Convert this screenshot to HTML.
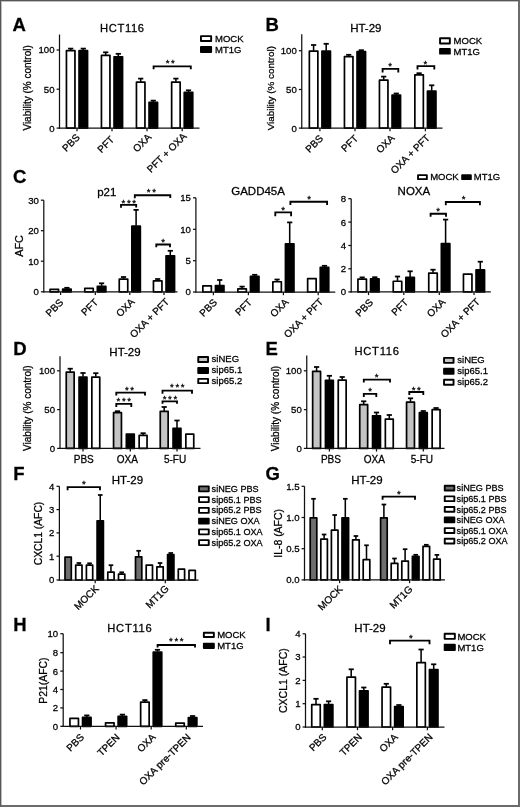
<!DOCTYPE html>
<html><head><meta charset="utf-8"><title>Figure</title>
<style>
html,body{margin:0;padding:0;background:#fff;}
body{width:520px;height:807px;overflow:hidden;position:relative;}
.frame{position:absolute;left:0;top:0;width:520px;height:807px;box-sizing:border-box;
 border-left:1px solid #575757;border-top:1px solid #575757;border-right:2px solid #6b6b6b;border-bottom:2px solid #6b6b6b;}
.frame2{position:absolute;left:1px;top:1px;width:517px;height:804px;box-sizing:border-box;border-left:1px solid #bdbdbd;border-top:1px solid #bdbdbd;}
svg{position:absolute;left:0;top:0;filter:blur(0.3px);}
svg text{font-family:'Liberation Sans', Arial, Helvetica, sans-serif;fill:#000;stroke:#000;stroke-width:0.28px;}
</style></head><body>
<svg width="520" height="807" viewBox="0 0 520 807">
<text x="12.6" y="30.7" font-size="18.5" font-weight="bold">A</text>
<text x="122" y="31.9" font-size="11.2" text-anchor="middle" textLength="44" lengthAdjust="spacing">HCT116</text>
<line x1="70.7" y1="50.3" x2="70.7" y2="48.6" stroke="#000" stroke-width="1.55"/>
<line x1="68.1" y1="48.6" x2="73.3" y2="48.6" stroke="#000" stroke-width="1.75"/>
<rect x="66.45" y="50.65" width="8.5" height="77.45" fill="#fff" stroke="#000" stroke-width="1.7" stroke-linejoin="round"/>
<line x1="83.3" y1="50.3" x2="83.3" y2="48.6" stroke="#000" stroke-width="1.55"/>
<line x1="80.7" y1="48.6" x2="85.9" y2="48.6" stroke="#000" stroke-width="1.75"/>
<rect x="79.05" y="50.65" width="8.5" height="77.45" fill="#000" stroke="#000" stroke-width="1.7" stroke-linejoin="round"/>
<line x1="105.7" y1="55" x2="105.7" y2="52.3" stroke="#000" stroke-width="1.55"/>
<line x1="103.1" y1="52.3" x2="108.3" y2="52.3" stroke="#000" stroke-width="1.75"/>
<rect x="101.45" y="55.35" width="8.5" height="72.75" fill="#fff" stroke="#000" stroke-width="1.7" stroke-linejoin="round"/>
<line x1="118.3" y1="56.5" x2="118.3" y2="53.8" stroke="#000" stroke-width="1.55"/>
<line x1="115.7" y1="53.8" x2="120.9" y2="53.8" stroke="#000" stroke-width="1.75"/>
<rect x="114.05" y="56.85" width="8.5" height="71.25" fill="#000" stroke="#000" stroke-width="1.7" stroke-linejoin="round"/>
<line x1="140.7" y1="81.8" x2="140.7" y2="78.6" stroke="#000" stroke-width="1.55"/>
<line x1="138.1" y1="78.6" x2="143.3" y2="78.6" stroke="#000" stroke-width="1.75"/>
<rect x="136.45" y="82.15" width="8.5" height="45.95" fill="#fff" stroke="#000" stroke-width="1.7" stroke-linejoin="round"/>
<line x1="153.3" y1="102.1" x2="153.3" y2="100.6" stroke="#000" stroke-width="1.55"/>
<line x1="150.7" y1="100.6" x2="155.9" y2="100.6" stroke="#000" stroke-width="1.75"/>
<rect x="149.05" y="102.45" width="8.5" height="25.65" fill="#000" stroke="#000" stroke-width="1.7" stroke-linejoin="round"/>
<line x1="175.9" y1="81.8" x2="175.9" y2="78.6" stroke="#000" stroke-width="1.55"/>
<line x1="173.3" y1="78.6" x2="178.5" y2="78.6" stroke="#000" stroke-width="1.75"/>
<rect x="171.65" y="82.15" width="8.5" height="45.95" fill="#fff" stroke="#000" stroke-width="1.7" stroke-linejoin="round"/>
<line x1="188.5" y1="92" x2="188.5" y2="90.3" stroke="#000" stroke-width="1.55"/>
<line x1="185.9" y1="90.3" x2="191.1" y2="90.3" stroke="#000" stroke-width="1.75"/>
<rect x="184.25" y="92.35" width="8.5" height="35.75" fill="#000" stroke="#000" stroke-width="1.7" stroke-linejoin="round"/>
<line x1="59.5" y1="34.5" x2="59.5" y2="128.72" stroke="#111" stroke-width="1.25"/>
<line x1="56.6" y1="50" x2="59.5" y2="50" stroke="#111" stroke-width="1.25"/>
<text x="54.5" y="53.44" font-size="9.6" text-anchor="end">100</text>
<line x1="56.6" y1="89.2" x2="59.5" y2="89.2" stroke="#111" stroke-width="1.25"/>
<text x="54.5" y="92.64" font-size="9.6" text-anchor="end">50</text>
<line x1="56.6" y1="128.1" x2="59.5" y2="128.1" stroke="#111" stroke-width="1.25"/>
<text x="54.5" y="131.54" font-size="9.6" text-anchor="end">0</text>
<line x1="58.88" y1="128.1" x2="199.5" y2="128.1" stroke="#111" stroke-width="1.25"/>
<line x1="77" y1="128.1" x2="77" y2="131.3" stroke="#111" stroke-width="1.25"/>
<line x1="112" y1="128.1" x2="112" y2="131.3" stroke="#111" stroke-width="1.25"/>
<line x1="147" y1="128.1" x2="147" y2="131.3" stroke="#111" stroke-width="1.25"/>
<line x1="182.2" y1="128.1" x2="182.2" y2="131.3" stroke="#111" stroke-width="1.25"/>
<text transform="translate(30.9,87.9) rotate(-90)" font-size="10" text-anchor="middle">Viability (% control)</text>
<text transform="translate(80.5,138.1) rotate(-45)" font-size="10" text-anchor="end">PBS</text>
<text transform="translate(114.8,140.1) rotate(-45)" font-size="10" text-anchor="end">PFT</text>
<text transform="translate(151.95,137.7) rotate(-45)" font-size="10" text-anchor="end">OXA</text>
<text transform="translate(187.3,137.1) rotate(-45)" font-size="10" text-anchor="end">PFT + OXA</text>
<path d="M153.6 69.3V66.3H190.8V69.3" fill="none" stroke="#000" stroke-width="1.85"/>
<text x="171" y="66.22" font-size="9.6" text-anchor="middle" letter-spacing="1.6">**</text>
<rect x="200.95" y="36.15" width="10.2" height="4.9" fill="#fff" stroke="#000" stroke-width="1.9" stroke-linejoin="round"/>
<text x="215" y="41.9" font-size="9.5">MOCK</text>
<rect x="200.95" y="46.95" width="10.2" height="5.1" fill="#000" stroke="#000" stroke-width="1.9" stroke-linejoin="round"/>
<text x="215" y="52.8" font-size="9.5">MT1G</text>
<text x="265.6" y="30.7" font-size="18.5" font-weight="bold">B</text>
<text x="365.8" y="31.9" font-size="11.5" text-anchor="middle">HT-29</text>
<line x1="313.6" y1="50.8" x2="313.6" y2="45" stroke="#000" stroke-width="1.55"/>
<line x1="311" y1="45" x2="316.2" y2="45" stroke="#000" stroke-width="1.75"/>
<rect x="309.35" y="51.15" width="8.5" height="76.95" fill="#fff" stroke="#000" stroke-width="1.7" stroke-linejoin="round"/>
<line x1="326.2" y1="50.8" x2="326.2" y2="43.8" stroke="#000" stroke-width="1.55"/>
<line x1="323.6" y1="43.8" x2="328.8" y2="43.8" stroke="#000" stroke-width="1.75"/>
<rect x="321.95" y="51.15" width="8.5" height="76.95" fill="#000" stroke="#000" stroke-width="1.7" stroke-linejoin="round"/>
<line x1="348.7" y1="56.3" x2="348.7" y2="54.8" stroke="#000" stroke-width="1.55"/>
<line x1="346.1" y1="54.8" x2="351.3" y2="54.8" stroke="#000" stroke-width="1.75"/>
<rect x="344.45" y="56.65" width="8.5" height="71.45" fill="#fff" stroke="#000" stroke-width="1.7" stroke-linejoin="round"/>
<line x1="361.3" y1="51.3" x2="361.3" y2="50.2" stroke="#000" stroke-width="1.55"/>
<line x1="358.7" y1="50.2" x2="363.9" y2="50.2" stroke="#000" stroke-width="1.75"/>
<rect x="357.05" y="51.65" width="8.5" height="76.45" fill="#000" stroke="#000" stroke-width="1.7" stroke-linejoin="round"/>
<line x1="383.7" y1="79.8" x2="383.7" y2="76.6" stroke="#000" stroke-width="1.55"/>
<line x1="381.1" y1="76.6" x2="386.3" y2="76.6" stroke="#000" stroke-width="1.75"/>
<rect x="379.45" y="80.15" width="8.5" height="47.95" fill="#fff" stroke="#000" stroke-width="1.7" stroke-linejoin="round"/>
<line x1="396.3" y1="94.8" x2="396.3" y2="93.5" stroke="#000" stroke-width="1.55"/>
<line x1="393.7" y1="93.5" x2="398.9" y2="93.5" stroke="#000" stroke-width="1.75"/>
<rect x="392.05" y="95.15" width="8.5" height="32.95" fill="#000" stroke="#000" stroke-width="1.7" stroke-linejoin="round"/>
<line x1="419.1" y1="74.5" x2="419.1" y2="73.2" stroke="#000" stroke-width="1.55"/>
<line x1="416.5" y1="73.2" x2="421.7" y2="73.2" stroke="#000" stroke-width="1.75"/>
<rect x="414.85" y="74.85" width="8.5" height="53.25" fill="#fff" stroke="#000" stroke-width="1.7" stroke-linejoin="round"/>
<line x1="431.7" y1="90.8" x2="431.7" y2="85.3" stroke="#000" stroke-width="1.55"/>
<line x1="429.1" y1="85.3" x2="434.3" y2="85.3" stroke="#000" stroke-width="1.75"/>
<rect x="427.45" y="91.15" width="8.5" height="36.95" fill="#000" stroke="#000" stroke-width="1.7" stroke-linejoin="round"/>
<line x1="301.75" y1="34.3" x2="301.75" y2="128.72" stroke="#111" stroke-width="1.25"/>
<line x1="298.85" y1="50.7" x2="301.75" y2="50.7" stroke="#111" stroke-width="1.25"/>
<text x="296.75" y="54.14" font-size="9.6" text-anchor="end">100</text>
<line x1="298.85" y1="89.5" x2="301.75" y2="89.5" stroke="#111" stroke-width="1.25"/>
<text x="296.75" y="92.94" font-size="9.6" text-anchor="end">50</text>
<line x1="298.85" y1="128.1" x2="301.75" y2="128.1" stroke="#111" stroke-width="1.25"/>
<text x="296.75" y="131.54" font-size="9.6" text-anchor="end">0</text>
<line x1="301.12" y1="128.1" x2="442.5" y2="128.1" stroke="#111" stroke-width="1.25"/>
<line x1="319.9" y1="128.1" x2="319.9" y2="131.3" stroke="#111" stroke-width="1.25"/>
<line x1="355" y1="128.1" x2="355" y2="131.3" stroke="#111" stroke-width="1.25"/>
<line x1="390" y1="128.1" x2="390" y2="131.3" stroke="#111" stroke-width="1.25"/>
<line x1="425.4" y1="128.1" x2="425.4" y2="131.3" stroke="#111" stroke-width="1.25"/>
<text transform="translate(273.87,88.2) rotate(-90)" font-size="9.9" text-anchor="middle">Viability (% control)</text>
<text transform="translate(323.6,139.1) rotate(-45)" font-size="10" text-anchor="end">PBS</text>
<text transform="translate(358.7,139.1) rotate(-45)" font-size="10" text-anchor="end">PFT</text>
<text transform="translate(395.3,138.8) rotate(-45)" font-size="10" text-anchor="end">OXA</text>
<text transform="translate(430.6,138.6) rotate(-45)" font-size="10" text-anchor="end">OXA + PFT</text>
<path d="M382.6 72.4V68.8H398.3V72.4" fill="none" stroke="#000" stroke-width="1.85"/>
<text x="391" y="68.62" font-size="9.6" text-anchor="middle" letter-spacing="1.6">*</text>
<path d="M417.5 69.6V66.1H434.3V69.6" fill="none" stroke="#000" stroke-width="1.85"/>
<text x="426.1" y="66.52" font-size="9.6" text-anchor="middle" letter-spacing="1.6">*</text>
<rect x="440.05" y="38.25" width="9.8" height="5.2" fill="#fff" stroke="#000" stroke-width="1.9" stroke-linejoin="round"/>
<text x="453.6" y="44" font-size="9.5">MOCK</text>
<rect x="440.05" y="48.95" width="9.8" height="4.7" fill="#000" stroke="#000" stroke-width="1.9" stroke-linejoin="round"/>
<text x="453.6" y="54.6" font-size="9.5">MT1G</text>
<text x="12.9" y="182.8" font-size="18.5" font-weight="bold">C</text>
<text x="106.8" y="195.5" font-size="11.5" text-anchor="middle">p21</text>
<rect x="50.05" y="289.45" width="8.5" height="2.35" fill="#fff" stroke="#000" stroke-width="1.7" stroke-linejoin="round"/>
<line x1="66.9" y1="288.8" x2="66.9" y2="287.8" stroke="#000" stroke-width="1.55"/>
<line x1="64.3" y1="287.8" x2="69.5" y2="287.8" stroke="#000" stroke-width="1.75"/>
<rect x="62.65" y="289.15" width="8.5" height="2.65" fill="#000" stroke="#000" stroke-width="1.7" stroke-linejoin="round"/>
<rect x="84.75" y="288.45" width="8.5" height="3.35" fill="#fff" stroke="#000" stroke-width="1.7" stroke-linejoin="round"/>
<line x1="101.6" y1="285.9" x2="101.6" y2="283.3" stroke="#000" stroke-width="1.55"/>
<line x1="99" y1="283.3" x2="104.2" y2="283.3" stroke="#000" stroke-width="1.75"/>
<rect x="97.35" y="286.25" width="8.5" height="5.55" fill="#000" stroke="#000" stroke-width="1.7" stroke-linejoin="round"/>
<line x1="123.5" y1="278.8" x2="123.5" y2="277" stroke="#000" stroke-width="1.55"/>
<line x1="120.9" y1="277" x2="126.1" y2="277" stroke="#000" stroke-width="1.75"/>
<rect x="119.25" y="279.15" width="8.5" height="12.65" fill="#fff" stroke="#000" stroke-width="1.7" stroke-linejoin="round"/>
<line x1="136.1" y1="225.8" x2="136.1" y2="209.9" stroke="#000" stroke-width="1.55"/>
<line x1="133.5" y1="209.9" x2="138.7" y2="209.9" stroke="#000" stroke-width="1.75"/>
<rect x="131.85" y="226.15" width="8.5" height="65.65" fill="#000" stroke="#000" stroke-width="1.7" stroke-linejoin="round"/>
<line x1="157.7" y1="280.5" x2="157.7" y2="279" stroke="#000" stroke-width="1.55"/>
<line x1="155.1" y1="279" x2="160.3" y2="279" stroke="#000" stroke-width="1.75"/>
<rect x="153.45" y="280.85" width="8.5" height="10.95" fill="#fff" stroke="#000" stroke-width="1.7" stroke-linejoin="round"/>
<line x1="170.3" y1="255.5" x2="170.3" y2="250.8" stroke="#000" stroke-width="1.55"/>
<line x1="167.7" y1="250.8" x2="172.9" y2="250.8" stroke="#000" stroke-width="1.75"/>
<rect x="166.05" y="255.85" width="8.5" height="35.95" fill="#000" stroke="#000" stroke-width="1.7" stroke-linejoin="round"/>
<line x1="43.8" y1="200.2" x2="43.8" y2="292.43" stroke="#111" stroke-width="1.25"/>
<line x1="40.9" y1="200.2" x2="43.8" y2="200.2" stroke="#111" stroke-width="1.25"/>
<text x="38.8" y="203.64" font-size="9.6" text-anchor="end">30</text>
<line x1="40.9" y1="230.7" x2="43.8" y2="230.7" stroke="#111" stroke-width="1.25"/>
<text x="38.8" y="234.14" font-size="9.6" text-anchor="end">20</text>
<line x1="40.9" y1="261.2" x2="43.8" y2="261.2" stroke="#111" stroke-width="1.25"/>
<text x="38.8" y="264.64" font-size="9.6" text-anchor="end">10</text>
<line x1="40.9" y1="291.8" x2="43.8" y2="291.8" stroke="#111" stroke-width="1.25"/>
<text x="38.8" y="295.24" font-size="9.6" text-anchor="end">0</text>
<line x1="43.17" y1="291.8" x2="177.5" y2="291.8" stroke="#111" stroke-width="1.25"/>
<line x1="60.6" y1="291.8" x2="60.6" y2="295" stroke="#111" stroke-width="1.25"/>
<line x1="95.3" y1="291.8" x2="95.3" y2="295" stroke="#111" stroke-width="1.25"/>
<line x1="129.8" y1="291.8" x2="129.8" y2="295" stroke="#111" stroke-width="1.25"/>
<line x1="164" y1="291.8" x2="164" y2="295" stroke="#111" stroke-width="1.25"/>
<text transform="translate(23.07,246) rotate(-90)" font-size="10.8" text-anchor="middle">AFC</text>
<text transform="translate(64,303) rotate(-45)" font-size="10" text-anchor="end">PBS</text>
<text transform="translate(98.7,303) rotate(-45)" font-size="10" text-anchor="end">PFT</text>
<text transform="translate(135.3,302.5) rotate(-45)" font-size="10" text-anchor="end">OXA</text>
<text transform="translate(169.9,302.5) rotate(-45)" font-size="10" text-anchor="end">OXA + PFT</text>
<path d="M121 207.8V204.9H136.2V207.6" fill="none" stroke="#000" stroke-width="1.85"/>
<text x="129.6" y="205.62" font-size="9.6" text-anchor="middle" letter-spacing="1.6">***</text>
<path d="M134.8 198.2V195.2H170.3V197.9" fill="none" stroke="#000" stroke-width="1.85"/>
<text x="152.2" y="195.42" font-size="9.6" text-anchor="middle" letter-spacing="1.6">**</text>
<path d="M156.3 247.3V244.5H170V247.3" fill="none" stroke="#000" stroke-width="1.85"/>
<text x="164" y="245.02" font-size="9.6" text-anchor="middle" letter-spacing="1.6">*</text>
<text x="258.1" y="194.7" font-size="11.5" text-anchor="middle">GADD45A</text>
<rect x="202.85" y="285.85" width="8.5" height="6.15" fill="#fff" stroke="#000" stroke-width="1.7" stroke-linejoin="round"/>
<line x1="219.7" y1="285.2" x2="219.7" y2="280" stroke="#000" stroke-width="1.55"/>
<line x1="217.1" y1="280" x2="222.3" y2="280" stroke="#000" stroke-width="1.75"/>
<rect x="215.45" y="285.55" width="8.5" height="6.45" fill="#000" stroke="#000" stroke-width="1.7" stroke-linejoin="round"/>
<line x1="242.1" y1="288.6" x2="242.1" y2="286.6" stroke="#000" stroke-width="1.55"/>
<line x1="239.5" y1="286.6" x2="244.7" y2="286.6" stroke="#000" stroke-width="1.75"/>
<rect x="237.85" y="288.95" width="8.5" height="3.05" fill="#fff" stroke="#000" stroke-width="1.7" stroke-linejoin="round"/>
<line x1="254.7" y1="276" x2="254.7" y2="274.8" stroke="#000" stroke-width="1.55"/>
<line x1="252.1" y1="274.8" x2="257.3" y2="274.8" stroke="#000" stroke-width="1.75"/>
<rect x="250.45" y="276.35" width="8.5" height="15.65" fill="#000" stroke="#000" stroke-width="1.7" stroke-linejoin="round"/>
<line x1="277.1" y1="281.4" x2="277.1" y2="279.5" stroke="#000" stroke-width="1.55"/>
<line x1="274.5" y1="279.5" x2="279.7" y2="279.5" stroke="#000" stroke-width="1.75"/>
<rect x="272.85" y="281.75" width="8.5" height="10.25" fill="#fff" stroke="#000" stroke-width="1.7" stroke-linejoin="round"/>
<line x1="289.7" y1="243.6" x2="289.7" y2="222.4" stroke="#000" stroke-width="1.55"/>
<line x1="287.1" y1="222.4" x2="292.3" y2="222.4" stroke="#000" stroke-width="1.75"/>
<rect x="285.45" y="243.95" width="8.5" height="48.05" fill="#000" stroke="#000" stroke-width="1.7" stroke-linejoin="round"/>
<rect x="307.65" y="278.65" width="8.5" height="13.35" fill="#fff" stroke="#000" stroke-width="1.7" stroke-linejoin="round"/>
<line x1="324.5" y1="267" x2="324.5" y2="265.8" stroke="#000" stroke-width="1.55"/>
<line x1="321.9" y1="265.8" x2="327.1" y2="265.8" stroke="#000" stroke-width="1.75"/>
<rect x="320.25" y="267.35" width="8.5" height="24.65" fill="#000" stroke="#000" stroke-width="1.7" stroke-linejoin="round"/>
<line x1="195.9" y1="197.8" x2="195.9" y2="292.62" stroke="#111" stroke-width="1.25"/>
<line x1="193" y1="197.8" x2="195.9" y2="197.8" stroke="#111" stroke-width="1.25"/>
<text x="190.9" y="201.24" font-size="9.6" text-anchor="end">15</text>
<line x1="193" y1="229.3" x2="195.9" y2="229.3" stroke="#111" stroke-width="1.25"/>
<text x="190.9" y="232.74" font-size="9.6" text-anchor="end">10</text>
<line x1="193" y1="260.7" x2="195.9" y2="260.7" stroke="#111" stroke-width="1.25"/>
<text x="190.9" y="264.14" font-size="9.6" text-anchor="end">5</text>
<line x1="193" y1="292" x2="195.9" y2="292" stroke="#111" stroke-width="1.25"/>
<text x="190.9" y="295.44" font-size="9.6" text-anchor="end">0</text>
<line x1="195.28" y1="292" x2="335.3" y2="292" stroke="#111" stroke-width="1.25"/>
<line x1="213.4" y1="292" x2="213.4" y2="295.2" stroke="#111" stroke-width="1.25"/>
<line x1="248.4" y1="292" x2="248.4" y2="295.2" stroke="#111" stroke-width="1.25"/>
<line x1="283.4" y1="292" x2="283.4" y2="295.2" stroke="#111" stroke-width="1.25"/>
<line x1="318.2" y1="292" x2="318.2" y2="295.2" stroke="#111" stroke-width="1.25"/>
<text transform="translate(217.6,303) rotate(-45)" font-size="10" text-anchor="end">PBS</text>
<text transform="translate(252.6,303) rotate(-45)" font-size="10" text-anchor="end">PFT</text>
<text transform="translate(289.1,302.7) rotate(-45)" font-size="10" text-anchor="end">OXA</text>
<text transform="translate(323.9,302.5) rotate(-45)" font-size="10" text-anchor="end">OXA + PFT</text>
<path d="M275.3 216.3V212.4H291.1V216.3" fill="none" stroke="#000" stroke-width="1.85"/>
<text x="283.9" y="213.02" font-size="9.6" text-anchor="middle" letter-spacing="1.6">*</text>
<path d="M290.4 205.1V201.7H327.1V205.1" fill="none" stroke="#000" stroke-width="1.85"/>
<text x="309.8" y="201.72" font-size="9.6" text-anchor="middle" letter-spacing="1.6">*</text>
<text x="413.9" y="194.8" font-size="11.5" text-anchor="middle">NOXA</text>
<line x1="362.2" y1="278.7" x2="362.2" y2="277.4" stroke="#000" stroke-width="1.55"/>
<line x1="359.6" y1="277.4" x2="364.8" y2="277.4" stroke="#000" stroke-width="1.75"/>
<rect x="357.95" y="279.05" width="8.5" height="12.85" fill="#fff" stroke="#000" stroke-width="1.7" stroke-linejoin="round"/>
<line x1="374.8" y1="278.5" x2="374.8" y2="277.2" stroke="#000" stroke-width="1.55"/>
<line x1="372.2" y1="277.2" x2="377.4" y2="277.2" stroke="#000" stroke-width="1.75"/>
<rect x="370.55" y="278.85" width="8.5" height="13.05" fill="#000" stroke="#000" stroke-width="1.7" stroke-linejoin="round"/>
<line x1="397.5" y1="280.9" x2="397.5" y2="276.5" stroke="#000" stroke-width="1.55"/>
<line x1="394.9" y1="276.5" x2="400.1" y2="276.5" stroke="#000" stroke-width="1.75"/>
<rect x="393.25" y="281.25" width="8.5" height="10.65" fill="#fff" stroke="#000" stroke-width="1.7" stroke-linejoin="round"/>
<line x1="410.1" y1="277" x2="410.1" y2="271.3" stroke="#000" stroke-width="1.55"/>
<line x1="407.5" y1="271.3" x2="412.7" y2="271.3" stroke="#000" stroke-width="1.75"/>
<rect x="405.85" y="277.35" width="8.5" height="14.55" fill="#000" stroke="#000" stroke-width="1.7" stroke-linejoin="round"/>
<line x1="433" y1="272.8" x2="433" y2="269.7" stroke="#000" stroke-width="1.55"/>
<line x1="430.4" y1="269.7" x2="435.6" y2="269.7" stroke="#000" stroke-width="1.75"/>
<rect x="428.75" y="273.15" width="8.5" height="18.75" fill="#fff" stroke="#000" stroke-width="1.7" stroke-linejoin="round"/>
<line x1="445.6" y1="243.3" x2="445.6" y2="219.6" stroke="#000" stroke-width="1.55"/>
<line x1="443" y1="219.6" x2="448.2" y2="219.6" stroke="#000" stroke-width="1.75"/>
<rect x="441.35" y="243.65" width="8.5" height="48.25" fill="#000" stroke="#000" stroke-width="1.7" stroke-linejoin="round"/>
<rect x="463.45" y="274.15" width="8.5" height="17.75" fill="#fff" stroke="#000" stroke-width="1.7" stroke-linejoin="round"/>
<line x1="480.3" y1="269.6" x2="480.3" y2="261.7" stroke="#000" stroke-width="1.55"/>
<line x1="477.7" y1="261.7" x2="482.9" y2="261.7" stroke="#000" stroke-width="1.75"/>
<rect x="476.05" y="269.95" width="8.5" height="21.95" fill="#000" stroke="#000" stroke-width="1.7" stroke-linejoin="round"/>
<line x1="351.2" y1="198.7" x2="351.2" y2="292.52" stroke="#111" stroke-width="1.25"/>
<line x1="348.3" y1="198.7" x2="351.2" y2="198.7" stroke="#111" stroke-width="1.25"/>
<text x="346.2" y="202.14" font-size="9.6" text-anchor="end">8</text>
<line x1="348.3" y1="222.1" x2="351.2" y2="222.1" stroke="#111" stroke-width="1.25"/>
<text x="346.2" y="225.54" font-size="9.6" text-anchor="end">6</text>
<line x1="348.3" y1="245.5" x2="351.2" y2="245.5" stroke="#111" stroke-width="1.25"/>
<text x="346.2" y="248.94" font-size="9.6" text-anchor="end">4</text>
<line x1="348.3" y1="268.8" x2="351.2" y2="268.8" stroke="#111" stroke-width="1.25"/>
<text x="346.2" y="272.24" font-size="9.6" text-anchor="end">2</text>
<line x1="348.3" y1="291.9" x2="351.2" y2="291.9" stroke="#111" stroke-width="1.25"/>
<text x="346.2" y="295.34" font-size="9.6" text-anchor="end">0</text>
<line x1="350.57" y1="291.9" x2="490.8" y2="291.9" stroke="#111" stroke-width="1.25"/>
<line x1="368.5" y1="291.9" x2="368.5" y2="295.1" stroke="#111" stroke-width="1.25"/>
<line x1="403.8" y1="291.9" x2="403.8" y2="295.1" stroke="#111" stroke-width="1.25"/>
<line x1="439.3" y1="291.9" x2="439.3" y2="295.1" stroke="#111" stroke-width="1.25"/>
<line x1="474" y1="291.9" x2="474" y2="295.1" stroke="#111" stroke-width="1.25"/>
<text transform="translate(373.6,303) rotate(-45)" font-size="10" text-anchor="end">PBS</text>
<text transform="translate(408.9,303) rotate(-45)" font-size="10" text-anchor="end">PFT</text>
<text transform="translate(445.9,302.7) rotate(-45)" font-size="10" text-anchor="end">OXA</text>
<text transform="translate(480.6,302.5) rotate(-45)" font-size="10" text-anchor="end">OXA + PFT</text>
<path d="M430.6 216.8V213.7H446V216.8" fill="none" stroke="#000" stroke-width="1.85"/>
<text x="439" y="213.92" font-size="9.6" text-anchor="middle" letter-spacing="1.6">*</text>
<path d="M445.8 205.2V202H479.9V205.2" fill="none" stroke="#000" stroke-width="1.85"/>
<text x="464.3" y="202.32" font-size="9.6" text-anchor="middle" letter-spacing="1.6">*</text>
<rect x="418.05" y="175.15" width="8.8" height="4" fill="#fff" stroke="#000" stroke-width="1.9" stroke-linejoin="round"/>
<text x="430.2" y="179.9" font-size="9.5">MOCK</text>
<rect x="462.15" y="175.15" width="8.7" height="4" fill="#000" stroke="#000" stroke-width="1.9" stroke-linejoin="round"/>
<text x="473.8" y="179.9" font-size="9.5">MT1G</text>
<text x="13.3" y="355.2" font-size="18.5" font-weight="bold">D</text>
<text x="125" y="355.5" font-size="11.5" text-anchor="middle">HT-29</text>
<line x1="70.2" y1="371.8" x2="70.2" y2="368.7" stroke="#000" stroke-width="1.55"/>
<line x1="67.6" y1="368.7" x2="72.8" y2="368.7" stroke="#000" stroke-width="1.75"/>
<rect x="66.25" y="372.15" width="7.9" height="76.25" fill="#c4c4c4" stroke="#000" stroke-width="1.7" stroke-linejoin="round"/>
<line x1="83" y1="376.8" x2="83" y2="373" stroke="#000" stroke-width="1.55"/>
<line x1="80.4" y1="373" x2="85.6" y2="373" stroke="#000" stroke-width="1.75"/>
<rect x="79.05" y="377.15" width="7.9" height="71.25" fill="#000" stroke="#000" stroke-width="1.7" stroke-linejoin="round"/>
<line x1="95.8" y1="376.8" x2="95.8" y2="373.2" stroke="#000" stroke-width="1.55"/>
<line x1="93.2" y1="373.2" x2="98.4" y2="373.2" stroke="#000" stroke-width="1.75"/>
<rect x="91.85" y="377.15" width="7.9" height="71.25" fill="#fff" stroke="#000" stroke-width="1.7" stroke-linejoin="round"/>
<line x1="117.5" y1="412.3" x2="117.5" y2="411.2" stroke="#000" stroke-width="1.55"/>
<line x1="114.9" y1="411.2" x2="120.1" y2="411.2" stroke="#000" stroke-width="1.75"/>
<rect x="113.55" y="412.65" width="7.9" height="35.75" fill="#c4c4c4" stroke="#000" stroke-width="1.7" stroke-linejoin="round"/>
<rect x="126.35" y="434.05" width="7.9" height="14.35" fill="#000" stroke="#000" stroke-width="1.7" stroke-linejoin="round"/>
<line x1="143.1" y1="435" x2="143.1" y2="433.2" stroke="#000" stroke-width="1.55"/>
<line x1="140.5" y1="433.2" x2="145.7" y2="433.2" stroke="#000" stroke-width="1.75"/>
<rect x="139.15" y="435.35" width="7.9" height="13.05" fill="#fff" stroke="#000" stroke-width="1.7" stroke-linejoin="round"/>
<line x1="164.2" y1="411" x2="164.2" y2="407" stroke="#000" stroke-width="1.55"/>
<line x1="161.6" y1="407" x2="166.8" y2="407" stroke="#000" stroke-width="1.75"/>
<rect x="160.25" y="411.35" width="7.9" height="37.05" fill="#c4c4c4" stroke="#000" stroke-width="1.7" stroke-linejoin="round"/>
<line x1="177" y1="428" x2="177" y2="420.5" stroke="#000" stroke-width="1.55"/>
<line x1="174.4" y1="420.5" x2="179.6" y2="420.5" stroke="#000" stroke-width="1.75"/>
<rect x="173.05" y="428.35" width="7.9" height="20.05" fill="#000" stroke="#000" stroke-width="1.7" stroke-linejoin="round"/>
<rect x="185.85" y="434.05" width="7.9" height="14.35" fill="#fff" stroke="#000" stroke-width="1.7" stroke-linejoin="round"/>
<line x1="60" y1="356.3" x2="60" y2="449.02" stroke="#111" stroke-width="1.25"/>
<line x1="57.1" y1="370.8" x2="60" y2="370.8" stroke="#111" stroke-width="1.25"/>
<text x="55" y="374.24" font-size="9.6" text-anchor="end">100</text>
<line x1="57.1" y1="409.6" x2="60" y2="409.6" stroke="#111" stroke-width="1.25"/>
<text x="55" y="413.04" font-size="9.6" text-anchor="end">50</text>
<line x1="57.1" y1="448.4" x2="60" y2="448.4" stroke="#111" stroke-width="1.25"/>
<text x="55" y="451.84" font-size="9.6" text-anchor="end">0</text>
<line x1="59.38" y1="448.4" x2="200.5" y2="448.4" stroke="#111" stroke-width="1.25"/>
<line x1="83" y1="448.4" x2="83" y2="451.6" stroke="#111" stroke-width="1.25"/>
<line x1="130.3" y1="448.4" x2="130.3" y2="451.6" stroke="#111" stroke-width="1.25"/>
<line x1="177" y1="448.4" x2="177" y2="451.6" stroke="#111" stroke-width="1.25"/>
<text transform="translate(30.9,408.2) rotate(-90)" font-size="10" text-anchor="middle">Viability (% control)</text>
<text x="83.8" y="462.5" font-size="10" text-anchor="middle">PBS</text>
<text x="127.4" y="462.5" font-size="10" text-anchor="middle">OXA</text>
<text x="175" y="462.5" font-size="10" text-anchor="middle">5-FU</text>
<path d="M116.3 395.6V392.6H145V395.6" fill="none" stroke="#000" stroke-width="1.85"/>
<text x="130.3" y="392.62" font-size="9.6" text-anchor="middle" letter-spacing="1.6">**</text>
<path d="M116.3 407V403.8H131.3V407" fill="none" stroke="#000" stroke-width="1.85"/>
<text x="124.6" y="404.02" font-size="9.6" text-anchor="middle" letter-spacing="1.6">***</text>
<path d="M162.5 393.8V390.6H192V393.8" fill="none" stroke="#000" stroke-width="1.85"/>
<text x="178.1" y="390.12" font-size="9.6" text-anchor="middle" letter-spacing="1.6">***</text>
<path d="M162.5 403.8V401.3H177V403.8" fill="none" stroke="#000" stroke-width="1.85"/>
<text x="170.8" y="401.62" font-size="9.6" text-anchor="middle" letter-spacing="1.6">***</text>
<rect x="198.25" y="356.95" width="9.8" height="5" fill="#c4c4c4" stroke="#000" stroke-width="1.9" stroke-linejoin="round"/>
<text x="211.6" y="362.4" font-size="9.5">siNEG</text>
<rect x="198.25" y="367.95" width="9.8" height="5" fill="#000" stroke="#000" stroke-width="1.9" stroke-linejoin="round"/>
<text x="211.6" y="373.3" font-size="9.5">sip65.1</text>
<rect x="198.25" y="378.85" width="9.8" height="4.3" fill="#fff" stroke="#000" stroke-width="1.9" stroke-linejoin="round"/>
<text x="211.6" y="384" font-size="9.5">sip65.2</text>
<text x="265.6" y="355.2" font-size="18.5" font-weight="bold">E</text>
<text x="376.7" y="354.7" font-size="11.2" text-anchor="middle" textLength="44.4" lengthAdjust="spacing">HCT116</text>
<line x1="316.6" y1="371" x2="316.6" y2="367" stroke="#000" stroke-width="1.55"/>
<line x1="314" y1="367" x2="319.2" y2="367" stroke="#000" stroke-width="1.75"/>
<rect x="312.65" y="371.35" width="7.9" height="77.05" fill="#c4c4c4" stroke="#000" stroke-width="1.7" stroke-linejoin="round"/>
<line x1="329.4" y1="380" x2="329.4" y2="375.8" stroke="#000" stroke-width="1.55"/>
<line x1="326.8" y1="375.8" x2="332" y2="375.8" stroke="#000" stroke-width="1.75"/>
<rect x="325.45" y="380.35" width="7.9" height="68.05" fill="#000" stroke="#000" stroke-width="1.7" stroke-linejoin="round"/>
<line x1="342.2" y1="379.8" x2="342.2" y2="377" stroke="#000" stroke-width="1.55"/>
<line x1="339.6" y1="377" x2="344.8" y2="377" stroke="#000" stroke-width="1.75"/>
<rect x="338.25" y="380.15" width="7.9" height="68.25" fill="#fff" stroke="#000" stroke-width="1.7" stroke-linejoin="round"/>
<line x1="363.7" y1="404.3" x2="363.7" y2="401.3" stroke="#000" stroke-width="1.55"/>
<line x1="361.1" y1="401.3" x2="366.3" y2="401.3" stroke="#000" stroke-width="1.75"/>
<rect x="359.75" y="404.65" width="7.9" height="43.75" fill="#c4c4c4" stroke="#000" stroke-width="1.7" stroke-linejoin="round"/>
<line x1="376.5" y1="415.5" x2="376.5" y2="412.5" stroke="#000" stroke-width="1.55"/>
<line x1="373.9" y1="412.5" x2="379.1" y2="412.5" stroke="#000" stroke-width="1.75"/>
<rect x="372.55" y="415.85" width="7.9" height="32.55" fill="#000" stroke="#000" stroke-width="1.7" stroke-linejoin="round"/>
<line x1="389.3" y1="418.8" x2="389.3" y2="415" stroke="#000" stroke-width="1.55"/>
<line x1="386.7" y1="415" x2="391.9" y2="415" stroke="#000" stroke-width="1.75"/>
<rect x="385.35" y="419.15" width="7.9" height="29.25" fill="#fff" stroke="#000" stroke-width="1.7" stroke-linejoin="round"/>
<line x1="410.5" y1="401.8" x2="410.5" y2="398.3" stroke="#000" stroke-width="1.55"/>
<line x1="407.9" y1="398.3" x2="413.1" y2="398.3" stroke="#000" stroke-width="1.75"/>
<rect x="406.55" y="402.15" width="7.9" height="46.25" fill="#c4c4c4" stroke="#000" stroke-width="1.7" stroke-linejoin="round"/>
<line x1="423.3" y1="412.3" x2="423.3" y2="411" stroke="#000" stroke-width="1.55"/>
<line x1="420.7" y1="411" x2="425.9" y2="411" stroke="#000" stroke-width="1.75"/>
<rect x="419.35" y="412.65" width="7.9" height="35.75" fill="#000" stroke="#000" stroke-width="1.7" stroke-linejoin="round"/>
<line x1="436.1" y1="409.3" x2="436.1" y2="408" stroke="#000" stroke-width="1.55"/>
<line x1="433.5" y1="408" x2="438.7" y2="408" stroke="#000" stroke-width="1.75"/>
<rect x="432.15" y="409.65" width="7.9" height="38.75" fill="#fff" stroke="#000" stroke-width="1.7" stroke-linejoin="round"/>
<line x1="306.75" y1="355.5" x2="306.75" y2="449.02" stroke="#111" stroke-width="1.25"/>
<line x1="303.85" y1="370.8" x2="306.75" y2="370.8" stroke="#111" stroke-width="1.25"/>
<text x="301.75" y="374.24" font-size="9.6" text-anchor="end">100</text>
<line x1="303.85" y1="409.6" x2="306.75" y2="409.6" stroke="#111" stroke-width="1.25"/>
<text x="301.75" y="413.04" font-size="9.6" text-anchor="end">50</text>
<line x1="303.85" y1="448.4" x2="306.75" y2="448.4" stroke="#111" stroke-width="1.25"/>
<text x="301.75" y="451.84" font-size="9.6" text-anchor="end">0</text>
<line x1="306.12" y1="448.4" x2="444.5" y2="448.4" stroke="#111" stroke-width="1.25"/>
<line x1="329.4" y1="448.4" x2="329.4" y2="451.6" stroke="#111" stroke-width="1.25"/>
<line x1="376.5" y1="448.4" x2="376.5" y2="451.6" stroke="#111" stroke-width="1.25"/>
<line x1="423.3" y1="448.4" x2="423.3" y2="451.6" stroke="#111" stroke-width="1.25"/>
<text transform="translate(278.6,408.5) rotate(-90)" font-size="10" text-anchor="middle">Viability (% control)</text>
<text x="330.9" y="462.5" font-size="10" text-anchor="middle">PBS</text>
<text x="374.4" y="462.5" font-size="10" text-anchor="middle">OXA</text>
<text x="421.9" y="462.5" font-size="10" text-anchor="middle">5-FU</text>
<path d="M363.8 397V393.8H376.3V397" fill="none" stroke="#000" stroke-width="1.85"/>
<text x="370.8" y="394.42" font-size="9.6" text-anchor="middle" letter-spacing="1.6">*</text>
<path d="M363.8 382.6V379.6H390V382.6" fill="none" stroke="#000" stroke-width="1.85"/>
<text x="377.3" y="380.02" font-size="9.6" text-anchor="middle" letter-spacing="1.6">*</text>
<path d="M409.3 395V392H423.3V395" fill="none" stroke="#000" stroke-width="1.85"/>
<text x="417.1" y="392.52" font-size="9.6" text-anchor="middle" letter-spacing="1.6">**</text>
<rect x="444.05" y="357.85" width="9.5" height="5" fill="#c4c4c4" stroke="#000" stroke-width="1.9" stroke-linejoin="round"/>
<text x="457.3" y="363.3" font-size="9.5">siNEG</text>
<rect x="444.05" y="368.75" width="9.5" height="5.1" fill="#000" stroke="#000" stroke-width="1.9" stroke-linejoin="round"/>
<text x="457.3" y="374.2" font-size="9.5">sip65.1</text>
<rect x="444.05" y="379.75" width="9.5" height="5" fill="#fff" stroke="#000" stroke-width="1.9" stroke-linejoin="round"/>
<text x="457.3" y="385.1" font-size="9.5">sip65.2</text>
<text x="13.3" y="480.1" font-size="18.5" font-weight="bold">F</text>
<text x="127.4" y="483.8" font-size="11.5" text-anchor="middle">HT-29</text>
<rect x="65" y="557.15" width="6.3" height="22.85" fill="#6e6e6e" stroke="#000" stroke-width="1.7" stroke-linejoin="round"/>
<line x1="78.85" y1="564.7" x2="78.85" y2="563" stroke="#000" stroke-width="1.55"/>
<line x1="76.55" y1="563" x2="81.15" y2="563" stroke="#000" stroke-width="1.75"/>
<rect x="75.7" y="565.05" width="6.3" height="14.95" fill="#fff" stroke="#000" stroke-width="1.7" stroke-linejoin="round"/>
<line x1="89.55" y1="564.8" x2="89.55" y2="563.3" stroke="#000" stroke-width="1.55"/>
<line x1="87.25" y1="563.3" x2="91.85" y2="563.3" stroke="#000" stroke-width="1.75"/>
<rect x="86.4" y="565.15" width="6.3" height="14.85" fill="#fff" stroke="#000" stroke-width="1.7" stroke-linejoin="round"/>
<line x1="100.25" y1="520.5" x2="100.25" y2="495" stroke="#000" stroke-width="1.55"/>
<line x1="97.95" y1="495" x2="102.55" y2="495" stroke="#000" stroke-width="1.75"/>
<rect x="97.1" y="520.85" width="6.3" height="59.15" fill="#000" stroke="#000" stroke-width="1.7" stroke-linejoin="round"/>
<line x1="110.95" y1="571.8" x2="110.95" y2="565.2" stroke="#000" stroke-width="1.55"/>
<line x1="108.65" y1="565.2" x2="113.25" y2="565.2" stroke="#000" stroke-width="1.75"/>
<rect x="107.8" y="572.15" width="6.3" height="7.85" fill="#fff" stroke="#000" stroke-width="1.7" stroke-linejoin="round"/>
<line x1="121.65" y1="573.8" x2="121.65" y2="572.3" stroke="#000" stroke-width="1.55"/>
<line x1="119.35" y1="572.3" x2="123.95" y2="572.3" stroke="#000" stroke-width="1.75"/>
<rect x="118.5" y="574.15" width="6.3" height="5.85" fill="#fff" stroke="#000" stroke-width="1.7" stroke-linejoin="round"/>
<line x1="138.65" y1="556.5" x2="138.65" y2="550.8" stroke="#000" stroke-width="1.55"/>
<line x1="136.35" y1="550.8" x2="140.95" y2="550.8" stroke="#000" stroke-width="1.75"/>
<rect x="135.5" y="556.85" width="6.3" height="23.15" fill="#6e6e6e" stroke="#000" stroke-width="1.7" stroke-linejoin="round"/>
<rect x="146.2" y="565.15" width="6.3" height="14.85" fill="#fff" stroke="#000" stroke-width="1.7" stroke-linejoin="round"/>
<line x1="160.05" y1="566.5" x2="160.05" y2="563" stroke="#000" stroke-width="1.55"/>
<line x1="157.75" y1="563" x2="162.35" y2="563" stroke="#000" stroke-width="1.75"/>
<rect x="156.9" y="566.85" width="6.3" height="13.15" fill="#fff" stroke="#000" stroke-width="1.7" stroke-linejoin="round"/>
<line x1="170.75" y1="554.2" x2="170.75" y2="553" stroke="#000" stroke-width="1.55"/>
<line x1="168.45" y1="553" x2="173.05" y2="553" stroke="#000" stroke-width="1.75"/>
<rect x="167.6" y="554.55" width="6.3" height="25.45" fill="#000" stroke="#000" stroke-width="1.7" stroke-linejoin="round"/>
<rect x="178.3" y="569.15" width="6.3" height="10.85" fill="#fff" stroke="#000" stroke-width="1.7" stroke-linejoin="round"/>
<rect x="189" y="570.45" width="6.3" height="9.55" fill="#fff" stroke="#000" stroke-width="1.7" stroke-linejoin="round"/>
<line x1="59.4" y1="486.3" x2="59.4" y2="580.62" stroke="#111" stroke-width="1.25"/>
<line x1="56.5" y1="486.3" x2="59.4" y2="486.3" stroke="#111" stroke-width="1.25"/>
<text x="54.4" y="489.74" font-size="9.6" text-anchor="end">4</text>
<line x1="56.5" y1="509.6" x2="59.4" y2="509.6" stroke="#111" stroke-width="1.25"/>
<text x="54.4" y="513.04" font-size="9.6" text-anchor="end">3</text>
<line x1="56.5" y1="532.9" x2="59.4" y2="532.9" stroke="#111" stroke-width="1.25"/>
<text x="54.4" y="536.34" font-size="9.6" text-anchor="end">2</text>
<line x1="56.5" y1="556.2" x2="59.4" y2="556.2" stroke="#111" stroke-width="1.25"/>
<text x="54.4" y="559.64" font-size="9.6" text-anchor="end">1</text>
<line x1="56.5" y1="580" x2="59.4" y2="580" stroke="#111" stroke-width="1.25"/>
<text x="54.4" y="583.44" font-size="9.6" text-anchor="end">0</text>
<line x1="58.77" y1="580" x2="198.5" y2="580" stroke="#111" stroke-width="1.25"/>
<line x1="95.2" y1="580" x2="95.2" y2="583.2" stroke="#111" stroke-width="1.25"/>
<line x1="165.3" y1="580" x2="165.3" y2="583.2" stroke="#111" stroke-width="1.25"/>
<text transform="translate(42.18,533.5) rotate(-90)" font-size="10.3" text-anchor="middle">CXCL1 (AFC)</text>
<text transform="translate(99.4,589.3) rotate(-45)" font-size="10" text-anchor="end">MOCK</text>
<text transform="translate(169.5,589.3) rotate(-45)" font-size="10" text-anchor="end">MT1G</text>
<path d="M67.6 490.2V487.1H100V490.2" fill="none" stroke="#000" stroke-width="1.85"/>
<text x="84.6" y="486.62" font-size="9.6" text-anchor="middle" letter-spacing="1.6">*</text>
<rect x="199.05" y="486.35" width="9.7" height="5" fill="#6e6e6e" stroke="#000" stroke-width="1.9" stroke-linejoin="round"/>
<text x="211.6" y="491.9" font-size="9.1">siNEG PBS</text>
<rect x="199.05" y="497.1" width="9.7" height="5" fill="#fff" stroke="#000" stroke-width="1.9" stroke-linejoin="round"/>
<text x="211.6" y="502.65" font-size="9.1">sip65.1 PBS</text>
<rect x="199.05" y="507.85" width="9.7" height="5" fill="#fff" stroke="#000" stroke-width="1.9" stroke-linejoin="round"/>
<text x="211.6" y="513.4" font-size="9.1">sip65.2 PBS</text>
<rect x="199.05" y="518.6" width="9.7" height="5" fill="#000" stroke="#000" stroke-width="1.9" stroke-linejoin="round"/>
<text x="211.6" y="524.15" font-size="9.1">siNEG OXA</text>
<rect x="199.05" y="529.35" width="9.7" height="5" fill="#fff" stroke="#000" stroke-width="1.9" stroke-linejoin="round"/>
<text x="211.6" y="534.9" font-size="9.1">sip65.1 OXA</text>
<rect x="199.05" y="540.1" width="9.7" height="5" fill="#fff" stroke="#000" stroke-width="1.9" stroke-linejoin="round"/>
<text x="211.6" y="545.65" font-size="9.1">sip65.2 OXA</text>
<text x="265.6" y="479.9" font-size="18.5" font-weight="bold">G</text>
<text x="366.9" y="483.8" font-size="11.5" text-anchor="middle">HT-29</text>
<line x1="313.5" y1="517.5" x2="313.5" y2="498.8" stroke="#000" stroke-width="1.55"/>
<line x1="311.2" y1="498.8" x2="315.8" y2="498.8" stroke="#000" stroke-width="1.75"/>
<rect x="310.2" y="517.85" width="6.6" height="62.05" fill="#6e6e6e" stroke="#000" stroke-width="1.7" stroke-linejoin="round"/>
<line x1="324.1" y1="538.8" x2="324.1" y2="534.5" stroke="#000" stroke-width="1.55"/>
<line x1="321.8" y1="534.5" x2="326.4" y2="534.5" stroke="#000" stroke-width="1.75"/>
<rect x="320.8" y="539.15" width="6.6" height="40.75" fill="#fff" stroke="#000" stroke-width="1.7" stroke-linejoin="round"/>
<line x1="334.7" y1="529.8" x2="334.7" y2="515" stroke="#000" stroke-width="1.55"/>
<line x1="332.4" y1="515" x2="337" y2="515" stroke="#000" stroke-width="1.75"/>
<rect x="331.4" y="530.15" width="6.6" height="49.75" fill="#fff" stroke="#000" stroke-width="1.7" stroke-linejoin="round"/>
<line x1="345.3" y1="517.5" x2="345.3" y2="498.8" stroke="#000" stroke-width="1.55"/>
<line x1="343" y1="498.8" x2="347.6" y2="498.8" stroke="#000" stroke-width="1.75"/>
<rect x="342" y="517.85" width="6.6" height="62.05" fill="#000" stroke="#000" stroke-width="1.7" stroke-linejoin="round"/>
<line x1="355.9" y1="539.5" x2="355.9" y2="536" stroke="#000" stroke-width="1.55"/>
<line x1="353.6" y1="536" x2="358.2" y2="536" stroke="#000" stroke-width="1.75"/>
<rect x="352.6" y="539.85" width="6.6" height="40.05" fill="#fff" stroke="#000" stroke-width="1.7" stroke-linejoin="round"/>
<line x1="366.5" y1="559.3" x2="366.5" y2="545.3" stroke="#000" stroke-width="1.55"/>
<line x1="364.2" y1="545.3" x2="368.8" y2="545.3" stroke="#000" stroke-width="1.75"/>
<rect x="363.2" y="559.65" width="6.6" height="20.25" fill="#fff" stroke="#000" stroke-width="1.7" stroke-linejoin="round"/>
<line x1="383.9" y1="517.5" x2="383.9" y2="504.5" stroke="#000" stroke-width="1.55"/>
<line x1="381.6" y1="504.5" x2="386.2" y2="504.5" stroke="#000" stroke-width="1.75"/>
<rect x="380.6" y="517.85" width="6.6" height="62.05" fill="#6e6e6e" stroke="#000" stroke-width="1.7" stroke-linejoin="round"/>
<line x1="394.5" y1="563" x2="394.5" y2="558.5" stroke="#000" stroke-width="1.55"/>
<line x1="392.2" y1="558.5" x2="396.8" y2="558.5" stroke="#000" stroke-width="1.75"/>
<rect x="391.2" y="563.35" width="6.6" height="16.55" fill="#fff" stroke="#000" stroke-width="1.7" stroke-linejoin="round"/>
<line x1="405.1" y1="560.8" x2="405.1" y2="549.2" stroke="#000" stroke-width="1.55"/>
<line x1="402.8" y1="549.2" x2="407.4" y2="549.2" stroke="#000" stroke-width="1.75"/>
<rect x="401.8" y="561.15" width="6.6" height="18.75" fill="#fff" stroke="#000" stroke-width="1.7" stroke-linejoin="round"/>
<line x1="415.7" y1="556.1" x2="415.7" y2="554.8" stroke="#000" stroke-width="1.55"/>
<line x1="413.4" y1="554.8" x2="418" y2="554.8" stroke="#000" stroke-width="1.75"/>
<rect x="412.4" y="556.45" width="6.6" height="23.45" fill="#000" stroke="#000" stroke-width="1.7" stroke-linejoin="round"/>
<line x1="426.3" y1="546" x2="426.3" y2="544.8" stroke="#000" stroke-width="1.55"/>
<line x1="424" y1="544.8" x2="428.6" y2="544.8" stroke="#000" stroke-width="1.75"/>
<rect x="423" y="546.35" width="6.6" height="33.55" fill="#fff" stroke="#000" stroke-width="1.7" stroke-linejoin="round"/>
<line x1="436.9" y1="558.7" x2="436.9" y2="554.9" stroke="#000" stroke-width="1.55"/>
<line x1="434.6" y1="554.9" x2="439.2" y2="554.9" stroke="#000" stroke-width="1.75"/>
<rect x="433.6" y="559.05" width="6.6" height="20.85" fill="#fff" stroke="#000" stroke-width="1.7" stroke-linejoin="round"/>
<line x1="304.5" y1="486.3" x2="304.5" y2="580.52" stroke="#111" stroke-width="1.25"/>
<line x1="301.6" y1="486.3" x2="304.5" y2="486.3" stroke="#111" stroke-width="1.25"/>
<text x="299.5" y="489.74" font-size="9.6" text-anchor="end">1.5</text>
<line x1="301.6" y1="517.5" x2="304.5" y2="517.5" stroke="#111" stroke-width="1.25"/>
<text x="299.5" y="520.94" font-size="9.6" text-anchor="end">1.0</text>
<line x1="301.6" y1="548.7" x2="304.5" y2="548.7" stroke="#111" stroke-width="1.25"/>
<text x="299.5" y="552.14" font-size="9.6" text-anchor="end">0.5</text>
<line x1="301.6" y1="579.9" x2="304.5" y2="579.9" stroke="#111" stroke-width="1.25"/>
<text x="299.5" y="583.34" font-size="9.6" text-anchor="end">0.0</text>
<line x1="303.88" y1="579.9" x2="445" y2="579.9" stroke="#111" stroke-width="1.25"/>
<line x1="339.6" y1="579.9" x2="339.6" y2="583.1" stroke="#111" stroke-width="1.25"/>
<line x1="409.6" y1="579.9" x2="409.6" y2="583.1" stroke="#111" stroke-width="1.25"/>
<text transform="translate(281.6,533.4) rotate(-90)" font-size="10.4" text-anchor="middle">IL-8 (AFC)</text>
<text transform="translate(343.3,589.7) rotate(-45)" font-size="10" text-anchor="end">MOCK</text>
<text transform="translate(413.3,589.7) rotate(-45)" font-size="10" text-anchor="end">MT1G</text>
<path d="M382.6 499.8V496.6H415V499.8" fill="none" stroke="#000" stroke-width="1.85"/>
<text x="399.6" y="496.62" font-size="9.6" text-anchor="middle" letter-spacing="1.6">*</text>
<rect x="444.75" y="485.75" width="9.6" height="4.8" fill="#6e6e6e" stroke="#000" stroke-width="1.9" stroke-linejoin="round"/>
<text x="456.6" y="491.4" font-size="9.1">siNEG PBS</text>
<rect x="444.75" y="496.35" width="9.6" height="4.8" fill="#fff" stroke="#000" stroke-width="1.9" stroke-linejoin="round"/>
<text x="456.6" y="502" font-size="9.1">sip65.1 PBS</text>
<rect x="444.75" y="506.95" width="9.6" height="4.8" fill="#fff" stroke="#000" stroke-width="1.9" stroke-linejoin="round"/>
<text x="456.6" y="512.6" font-size="9.1">sip65.2 PBS</text>
<rect x="444.75" y="517.55" width="9.6" height="4.8" fill="#000" stroke="#000" stroke-width="1.9" stroke-linejoin="round"/>
<text x="456.6" y="523.2" font-size="9.1">siNEG OXA</text>
<rect x="444.75" y="528.15" width="9.6" height="4.8" fill="#fff" stroke="#000" stroke-width="1.9" stroke-linejoin="round"/>
<text x="456.6" y="533.8" font-size="9.1">sip65.1 OXA</text>
<rect x="444.75" y="538.75" width="9.6" height="4.8" fill="#fff" stroke="#000" stroke-width="1.9" stroke-linejoin="round"/>
<text x="456.6" y="544.4" font-size="9.1">sip65.2 OXA</text>
<text x="13.3" y="630.5" font-size="18.5" font-weight="bold">H</text>
<text x="129.5" y="631.8" font-size="11.2" text-anchor="middle" textLength="44.4" lengthAdjust="spacing">HCT116</text>
<rect x="69.95" y="718.45" width="8.5" height="7.85" fill="#fff" stroke="#000" stroke-width="1.7" stroke-linejoin="round"/>
<line x1="86.8" y1="717.1" x2="86.8" y2="715.4" stroke="#000" stroke-width="1.55"/>
<line x1="84.2" y1="715.4" x2="89.4" y2="715.4" stroke="#000" stroke-width="1.75"/>
<rect x="82.55" y="717.45" width="8.5" height="8.85" fill="#000" stroke="#000" stroke-width="1.7" stroke-linejoin="round"/>
<rect x="105.55" y="722.85" width="8.5" height="3.45" fill="#fff" stroke="#000" stroke-width="1.7" stroke-linejoin="round"/>
<line x1="122.4" y1="716" x2="122.4" y2="714.6" stroke="#000" stroke-width="1.55"/>
<line x1="119.8" y1="714.6" x2="125" y2="714.6" stroke="#000" stroke-width="1.75"/>
<rect x="118.15" y="716.35" width="8.5" height="9.95" fill="#000" stroke="#000" stroke-width="1.7" stroke-linejoin="round"/>
<line x1="144.9" y1="701.7" x2="144.9" y2="700.1" stroke="#000" stroke-width="1.55"/>
<line x1="142.3" y1="700.1" x2="147.5" y2="700.1" stroke="#000" stroke-width="1.75"/>
<rect x="140.65" y="702.05" width="8.5" height="24.25" fill="#fff" stroke="#000" stroke-width="1.7" stroke-linejoin="round"/>
<line x1="157.5" y1="651.8" x2="157.5" y2="649.8" stroke="#000" stroke-width="1.55"/>
<line x1="154.9" y1="649.8" x2="160.1" y2="649.8" stroke="#000" stroke-width="1.75"/>
<rect x="153.25" y="652.15" width="8.5" height="74.15" fill="#000" stroke="#000" stroke-width="1.7" stroke-linejoin="round"/>
<rect x="175.75" y="723.05" width="8.5" height="3.25" fill="#fff" stroke="#000" stroke-width="1.7" stroke-linejoin="round"/>
<line x1="192.6" y1="717.3" x2="192.6" y2="716" stroke="#000" stroke-width="1.55"/>
<line x1="190" y1="716" x2="195.2" y2="716" stroke="#000" stroke-width="1.75"/>
<rect x="188.35" y="717.65" width="8.5" height="8.65" fill="#000" stroke="#000" stroke-width="1.7" stroke-linejoin="round"/>
<line x1="63.2" y1="633.7" x2="63.2" y2="726.92" stroke="#111" stroke-width="1.25"/>
<line x1="60.3" y1="633.7" x2="63.2" y2="633.7" stroke="#111" stroke-width="1.25"/>
<text x="58.2" y="637.14" font-size="9.6" text-anchor="end">10</text>
<line x1="60.3" y1="652.7" x2="63.2" y2="652.7" stroke="#111" stroke-width="1.25"/>
<text x="58.2" y="656.14" font-size="9.6" text-anchor="end">8</text>
<line x1="60.3" y1="671.1" x2="63.2" y2="671.1" stroke="#111" stroke-width="1.25"/>
<text x="58.2" y="674.54" font-size="9.6" text-anchor="end">6</text>
<line x1="60.3" y1="689.5" x2="63.2" y2="689.5" stroke="#111" stroke-width="1.25"/>
<text x="58.2" y="692.94" font-size="9.6" text-anchor="end">4</text>
<line x1="60.3" y1="707.9" x2="63.2" y2="707.9" stroke="#111" stroke-width="1.25"/>
<text x="58.2" y="711.34" font-size="9.6" text-anchor="end">2</text>
<line x1="60.3" y1="726.3" x2="63.2" y2="726.3" stroke="#111" stroke-width="1.25"/>
<text x="58.2" y="729.74" font-size="9.6" text-anchor="end">0</text>
<line x1="62.58" y1="726.3" x2="203" y2="726.3" stroke="#111" stroke-width="1.25"/>
<line x1="80.5" y1="726.3" x2="80.5" y2="729.5" stroke="#111" stroke-width="1.25"/>
<line x1="116.1" y1="726.3" x2="116.1" y2="729.5" stroke="#111" stroke-width="1.25"/>
<line x1="151.2" y1="726.3" x2="151.2" y2="729.5" stroke="#111" stroke-width="1.25"/>
<line x1="186.3" y1="726.3" x2="186.3" y2="729.5" stroke="#111" stroke-width="1.25"/>
<text transform="translate(47,680.6) rotate(-90)" font-size="10.4" text-anchor="middle">P21(AFC)</text>
<text transform="translate(84.7,737.9) rotate(-45)" font-size="10" text-anchor="end">PBS</text>
<text transform="translate(120.3,737.9) rotate(-45)" font-size="10" text-anchor="end">TPEN</text>
<text transform="translate(156.1,737.7) rotate(-45)" font-size="10" text-anchor="end">OXA</text>
<text transform="translate(191.3,737.9) rotate(-45)" font-size="10" text-anchor="end">OXA pre-TPEN</text>
<path d="M157.6 647.6V645H195V647.6" fill="none" stroke="#000" stroke-width="1.85"/>
<text x="177.1" y="644.12" font-size="9.6" text-anchor="middle" letter-spacing="1.6">***</text>
<rect x="203.85" y="632.75" width="10" height="4.3" fill="#fff" stroke="#000" stroke-width="1.9" stroke-linejoin="round"/>
<text x="217.2" y="638.4" font-size="9.5">MOCK</text>
<rect x="203.85" y="643.75" width="10" height="4.3" fill="#000" stroke="#000" stroke-width="1.9" stroke-linejoin="round"/>
<text x="217.2" y="649.4" font-size="9.5">MT1G</text>
<text x="265.6" y="630.5" font-size="18.5" font-weight="bold">I</text>
<text x="370" y="632" font-size="11.5" text-anchor="middle">HT-29</text>
<line x1="316" y1="704.3" x2="316" y2="698.8" stroke="#000" stroke-width="1.55"/>
<line x1="313.4" y1="698.8" x2="318.6" y2="698.8" stroke="#000" stroke-width="1.75"/>
<rect x="311.75" y="704.65" width="8.5" height="22.35" fill="#fff" stroke="#000" stroke-width="1.7" stroke-linejoin="round"/>
<line x1="328.6" y1="704.3" x2="328.6" y2="701.3" stroke="#000" stroke-width="1.55"/>
<line x1="326" y1="701.3" x2="331.2" y2="701.3" stroke="#000" stroke-width="1.75"/>
<rect x="324.35" y="704.65" width="8.5" height="22.35" fill="#000" stroke="#000" stroke-width="1.7" stroke-linejoin="round"/>
<line x1="351.2" y1="676.8" x2="351.2" y2="669.3" stroke="#000" stroke-width="1.55"/>
<line x1="348.6" y1="669.3" x2="353.8" y2="669.3" stroke="#000" stroke-width="1.75"/>
<rect x="346.95" y="677.15" width="8.5" height="49.85" fill="#fff" stroke="#000" stroke-width="1.7" stroke-linejoin="round"/>
<line x1="363.8" y1="690.5" x2="363.8" y2="687.5" stroke="#000" stroke-width="1.55"/>
<line x1="361.2" y1="687.5" x2="366.4" y2="687.5" stroke="#000" stroke-width="1.75"/>
<rect x="359.55" y="690.85" width="8.5" height="36.15" fill="#000" stroke="#000" stroke-width="1.7" stroke-linejoin="round"/>
<line x1="386.3" y1="686.8" x2="386.3" y2="683.8" stroke="#000" stroke-width="1.55"/>
<line x1="383.7" y1="683.8" x2="388.9" y2="683.8" stroke="#000" stroke-width="1.75"/>
<rect x="382.05" y="687.15" width="8.5" height="39.85" fill="#fff" stroke="#000" stroke-width="1.7" stroke-linejoin="round"/>
<line x1="398.9" y1="706.3" x2="398.9" y2="705" stroke="#000" stroke-width="1.55"/>
<line x1="396.3" y1="705" x2="401.5" y2="705" stroke="#000" stroke-width="1.75"/>
<rect x="394.65" y="706.65" width="8.5" height="20.35" fill="#000" stroke="#000" stroke-width="1.7" stroke-linejoin="round"/>
<line x1="421.1" y1="662.3" x2="421.1" y2="649.5" stroke="#000" stroke-width="1.55"/>
<line x1="418.5" y1="649.5" x2="423.7" y2="649.5" stroke="#000" stroke-width="1.75"/>
<rect x="416.85" y="662.65" width="8.5" height="64.35" fill="#fff" stroke="#000" stroke-width="1.7" stroke-linejoin="round"/>
<line x1="433.7" y1="669.3" x2="433.7" y2="664.3" stroke="#000" stroke-width="1.55"/>
<line x1="431.1" y1="664.3" x2="436.3" y2="664.3" stroke="#000" stroke-width="1.75"/>
<rect x="429.45" y="669.65" width="8.5" height="57.35" fill="#000" stroke="#000" stroke-width="1.7" stroke-linejoin="round"/>
<line x1="305.5" y1="633.8" x2="305.5" y2="727.62" stroke="#111" stroke-width="1.25"/>
<line x1="302.6" y1="633.8" x2="305.5" y2="633.8" stroke="#111" stroke-width="1.25"/>
<text x="300.5" y="637.24" font-size="9.6" text-anchor="end">4</text>
<line x1="302.6" y1="657" x2="305.5" y2="657" stroke="#111" stroke-width="1.25"/>
<text x="300.5" y="660.44" font-size="9.6" text-anchor="end">3</text>
<line x1="302.6" y1="680.4" x2="305.5" y2="680.4" stroke="#111" stroke-width="1.25"/>
<text x="300.5" y="683.84" font-size="9.6" text-anchor="end">2</text>
<line x1="302.6" y1="703.7" x2="305.5" y2="703.7" stroke="#111" stroke-width="1.25"/>
<text x="300.5" y="707.14" font-size="9.6" text-anchor="end">1</text>
<line x1="302.6" y1="727" x2="305.5" y2="727" stroke="#111" stroke-width="1.25"/>
<text x="300.5" y="730.44" font-size="9.6" text-anchor="end">0</text>
<line x1="304.88" y1="727" x2="444.5" y2="727" stroke="#111" stroke-width="1.25"/>
<line x1="322.3" y1="727" x2="322.3" y2="730.2" stroke="#111" stroke-width="1.25"/>
<line x1="357.5" y1="727" x2="357.5" y2="730.2" stroke="#111" stroke-width="1.25"/>
<line x1="392.6" y1="727" x2="392.6" y2="730.2" stroke="#111" stroke-width="1.25"/>
<line x1="427.4" y1="727" x2="427.4" y2="730.2" stroke="#111" stroke-width="1.25"/>
<text transform="translate(287.13,680.6) rotate(-90)" font-size="10.5" text-anchor="middle">CXCL1 (AFC)</text>
<text transform="translate(327.3,737.7) rotate(-45)" font-size="10" text-anchor="end">PBS</text>
<text transform="translate(362.5,737.7) rotate(-45)" font-size="10" text-anchor="end">TPEN</text>
<text transform="translate(398.4,737.7) rotate(-45)" font-size="10" text-anchor="end">OXA</text>
<text transform="translate(433.3,737.7) rotate(-45)" font-size="10" text-anchor="end">OXA pre-TPEN</text>
<path d="M390 644.3V640.6H429.5V644.3" fill="none" stroke="#000" stroke-width="1.85"/>
<text x="411.6" y="640.82" font-size="9.6" text-anchor="middle" letter-spacing="1.6">*</text>
<rect x="444.65" y="633.75" width="10.2" height="5.1" fill="#fff" stroke="#000" stroke-width="1.9" stroke-linejoin="round"/>
<text x="457.4" y="639.9" font-size="9.5">MOCK</text>
<rect x="444.65" y="644.75" width="10.2" height="5.2" fill="#000" stroke="#000" stroke-width="1.9" stroke-linejoin="round"/>
<text x="457.4" y="650.8" font-size="9.5">MT1G</text>
</svg>
<div class="frame"></div><div class="frame2"></div>
</body></html>
